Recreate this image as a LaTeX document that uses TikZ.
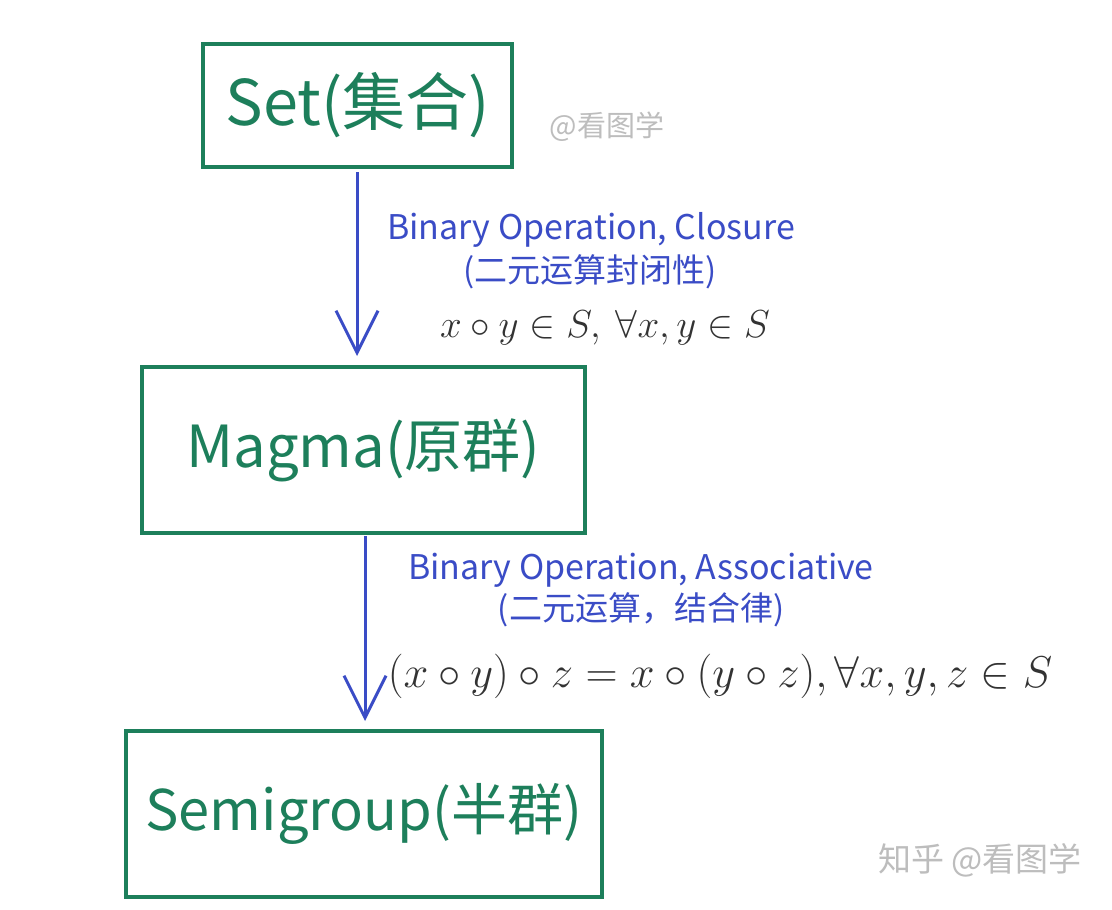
\RequirePackage{fix-cm}
\documentclass[tikz,border=0pt]{standalone}
\usepackage{fontspec}
\setmainfont{Noto Sans CJK SC}
\usetikzlibrary{arrows.meta}
\definecolor{boxgreen}{HTML}{1D7F5B}
\definecolor{labblue}{HTML}{3A4CC6}
\definecolor{wmgray}{HTML}{BDBDBD}
\tikzset{
  concept/.style={draw=boxgreen, line width=4pt, text=boxgreen, font=\fontsize{58}{64}\selectfont, inner sep=0pt, anchor=center},
  relarrow/.style={draw=labblue, line width=3pt, -{Straight Barb[length=42pt,width=42pt,line width=3pt]}},
  lab/.style={text=labblue, font=\fontsize{34}{38}\selectfont, inner sep=0pt},
  mathlab/.style={text=black!80, inner sep=0pt},
  wm/.style={text=wmgray, inner sep=0pt}
}
\begin{document}
\begin{tikzpicture}[x=1pt,y=-1pt]
\useasboundingbox[fill=white] (0,0) rectangle (1112,910);
\node[concept, minimum width=309pt, minimum height=123pt, font=\fontsize{63}{68}\selectfont] (set) at (357.5,105.5) {Set(集合)};
\node[concept, minimum width=443pt, minimum height=166pt] (magma) at (363.5,450) {Magma(原群)};
\node[concept, minimum width=476pt, minimum height=166pt, font=\fontsize{56}{62}\selectfont] (semi) at (364,814) {Semigroup(半群)};
\node[wm, font=\fontsize{29}{32}\selectfont] (wm1) at (607,127) {@看图学};
\node[wm, font=\fontsize{33}{36}\selectfont] (wm2) at (980,860) {知乎 @看图学};
\coordinate (a1s) at (357,172);
\coordinate (a1e) at (357,356);
\coordinate (a2s) at (365,536);
\coordinate (a2e) at (365,721);
\draw[relarrow] (a1s) -- (a1e);
\draw[relarrow] (a2s) -- (a2e);
\node[lab] (l1a) at (591,230) {Binary Operation, Closure};
\node[lab, font=\fontsize{33}{36}\selectfont] (l1b) at (590,272) {(二元运算封闭性)};
\node[lab] (l2a) at (641,570) {Binary Operation, Associative};
\node[lab, font=\fontsize{33}{36}\selectfont] (l2b) at (641,610) {(二元运算，结合律)};
\node[mathlab, font=\fontsize{39}{44}\selectfont] (m1) at (605,328) {$x\circ y\in S,\ \forall x,y\in S$};
\node[mathlab, font=\fontsize{44.5}{50}\selectfont] (m2) at (720,676) {$(x\circ y)\circ z=x\circ(y\circ z),\forall x,y,z\in S$};
\end{tikzpicture}
\end{document}
